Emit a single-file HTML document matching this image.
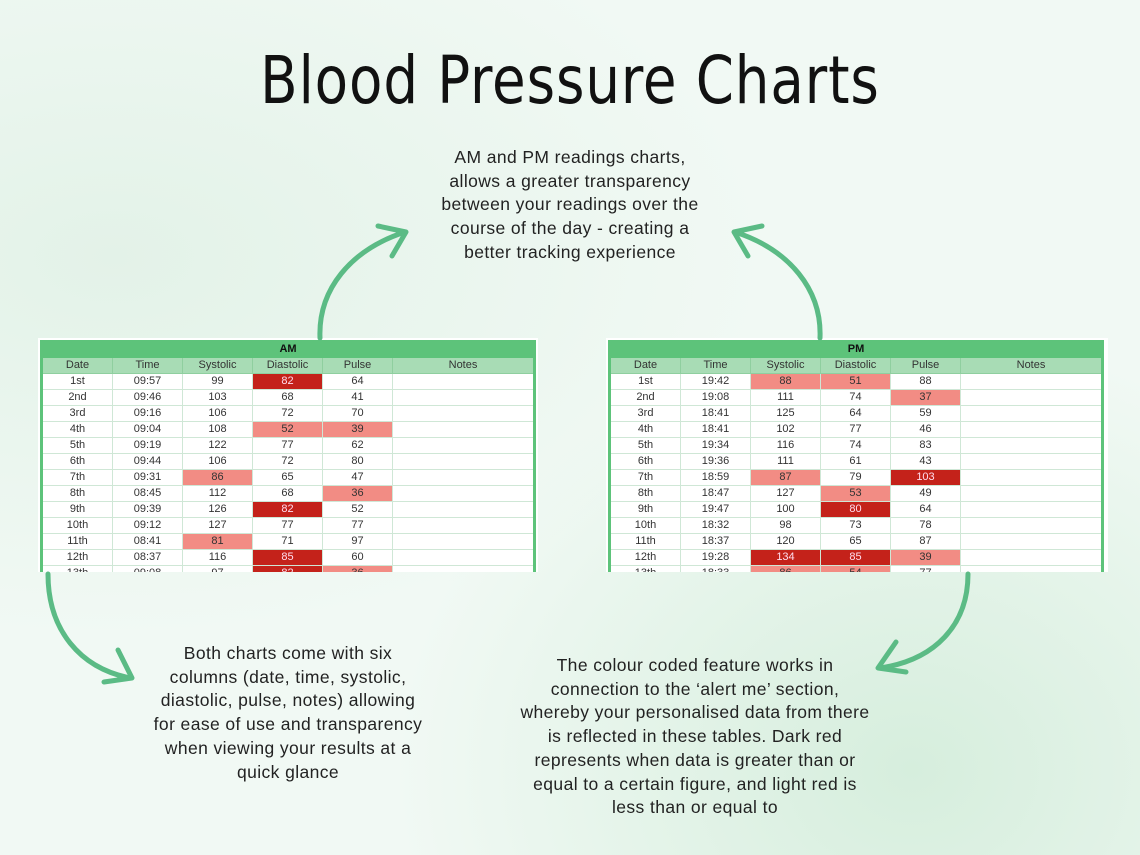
<!DOCTYPE html>
<html><head><meta charset="utf-8"><style>
body{margin:0;width:1140px;height:855px;overflow:hidden;position:relative;font-family:"Liberation Sans",sans-serif;
background:radial-gradient(ellipse at 80% 90%,#d6eedd 0%,rgba(230,245,235,0) 40%),radial-gradient(ellipse at 10% 30%,#e3f2e8 0%,rgba(240,248,243,0) 45%),#f1f9f4;}
.title{position:absolute;left:0;width:1140px;top:42px;text-align:center;font-family:"DejaVu Sans Condensed","DejaVu Sans",sans-serif;font-weight:200;font-size:66px;letter-spacing:1px;color:#111;transform:scaleX(0.92)}
.txt{position:absolute;text-align:center;font-size:17.5px;letter-spacing:0.4px;line-height:23.7px;color:#222;white-space:nowrap}
.wrap{position:absolute;top:338px;height:234px;background:#fff;overflow:hidden}
table{border-collapse:collapse;table-layout:fixed;font-size:11px;color:#333;margin-left:2px}
td{height:15px;padding:0;text-align:center;border:1px solid #cfe7d6;line-height:15px;white-space:nowrap}
tr.h td{background:#5dc37a;font-weight:bold;color:#111;height:16px;border-color:#5dc37a}
tr.c td{background:#a8dcb5;color:#333;border-color:#8fcf9f}
td.d{background:#c4221a;color:#fde}
td.l{background:#f28c84}
table{border-left:3px solid #5dc37a;border-right:3px solid #5dc37a}
</style></head><body>
<div class="title">Blood Pressure Charts</div>
<div class="txt" style="left:370px;width:400px;top:146px">AM and PM readings charts,<br>allows a greater transparency<br>between your readings over the<br>course of the day - creating a<br>better tracking experience</div>
<div class="txt" style="left:88px;width:400px;top:642px">Both charts come with six<br>columns (date, time, systolic,<br>diastolic, pulse, notes) allowing<br>for ease of use and transparency<br>when viewing your results at a<br>quick glance</div>
<div class="txt" style="left:445px;width:500px;top:654px">The colour coded feature works in<br>connection to the ‘alert me’ section,<br>whereby your personalised data from there<br>is reflected in these tables. Dark red<br>represents when data is greater than or<br>equal to a certain figure, and light red is<br>less than or equal to</div>

<div class="wrap" style="left:38px;width:500px">
<table style="width:496px;margin-top:2px"><colgroup><col style="width:71px"><col style="width:70px"><col style="width:70px"><col style="width:70px"><col style="width:70px"><col></colgroup>
<tr class="h"><td colspan="6">AM</td></tr>
<tr class="c"><td>Date</td><td>Time</td><td>Systolic</td><td>Diastolic</td><td>Pulse</td><td>Notes</td></tr>
<tr><td>1st</td><td>09:57</td><td>99</td><td class="d">82</td><td>64</td><td></td></tr>
<tr><td>2nd</td><td>09:46</td><td>103</td><td>68</td><td>41</td><td></td></tr>
<tr><td>3rd</td><td>09:16</td><td>106</td><td>72</td><td>70</td><td></td></tr>
<tr><td>4th</td><td>09:04</td><td>108</td><td class="l">52</td><td class="l">39</td><td></td></tr>
<tr><td>5th</td><td>09:19</td><td>122</td><td>77</td><td>62</td><td></td></tr>
<tr><td>6th</td><td>09:44</td><td>106</td><td>72</td><td>80</td><td></td></tr>
<tr><td>7th</td><td>09:31</td><td class="l">86</td><td>65</td><td>47</td><td></td></tr>
<tr><td>8th</td><td>08:45</td><td>112</td><td>68</td><td class="l">36</td><td></td></tr>
<tr><td>9th</td><td>09:39</td><td>126</td><td class="d">82</td><td>52</td><td></td></tr>
<tr><td>10th</td><td>09:12</td><td>127</td><td>77</td><td>77</td><td></td></tr>
<tr><td>11th</td><td>08:41</td><td class="l">81</td><td>71</td><td>97</td><td></td></tr>
<tr><td>12th</td><td>08:37</td><td>116</td><td class="d">85</td><td>60</td><td></td></tr>
<tr><td>13th</td><td>09:08</td><td>97</td><td class="d">82</td><td class="l">36</td><td></td></tr>
</table></div>

<div class="wrap" style="left:606px;width:502px">
<table style="width:496px;margin-top:2px"><colgroup><col style="width:71px"><col style="width:70px"><col style="width:70px"><col style="width:70px"><col style="width:70px"><col></colgroup>
<tr class="h"><td colspan="6">PM</td></tr>
<tr class="c"><td>Date</td><td>Time</td><td>Systolic</td><td>Diastolic</td><td>Pulse</td><td>Notes</td></tr>
<tr><td>1st</td><td>19:42</td><td class="l">88</td><td class="l">51</td><td>88</td><td></td></tr>
<tr><td>2nd</td><td>19:08</td><td>111</td><td>74</td><td class="l">37</td><td></td></tr>
<tr><td>3rd</td><td>18:41</td><td>125</td><td>64</td><td>59</td><td></td></tr>
<tr><td>4th</td><td>18:41</td><td>102</td><td>77</td><td>46</td><td></td></tr>
<tr><td>5th</td><td>19:34</td><td>116</td><td>74</td><td>83</td><td></td></tr>
<tr><td>6th</td><td>19:36</td><td>111</td><td>61</td><td>43</td><td></td></tr>
<tr><td>7th</td><td>18:59</td><td class="l">87</td><td>79</td><td class="d">103</td><td></td></tr>
<tr><td>8th</td><td>18:47</td><td>127</td><td class="l">53</td><td>49</td><td></td></tr>
<tr><td>9th</td><td>19:47</td><td>100</td><td class="d">80</td><td>64</td><td></td></tr>
<tr><td>10th</td><td>18:32</td><td>98</td><td>73</td><td>78</td><td></td></tr>
<tr><td>11th</td><td>18:37</td><td>120</td><td>65</td><td>87</td><td></td></tr>
<tr><td>12th</td><td>19:28</td><td class="d">134</td><td class="d">85</td><td class="l">39</td><td></td></tr>
<tr><td>13th</td><td>18:33</td><td class="l">86</td><td class="l">54</td><td>77</td><td></td></tr>
</table></div>

<svg width="1140" height="855" style="position:absolute;left:0;top:0" fill="none" stroke="#5bbb85" stroke-width="5" stroke-linecap="round" stroke-linejoin="round">
<path d="M320 338 C318 290 350 250 405 232"/><path d="M378 226 L406 232 L392 256"/>
<path d="M820 338 C822 290 790 250 735 232"/><path d="M762 226 L734 232 L748 256"/>
<path d="M48 574 C48 630 80 668 130 678"/><path d="M118 650 L132 678 L104 682"/>
<path d="M968 574 C968 625 935 660 880 668"/><path d="M896 642 L878 668 L906 672"/>
</svg>
</body></html>
